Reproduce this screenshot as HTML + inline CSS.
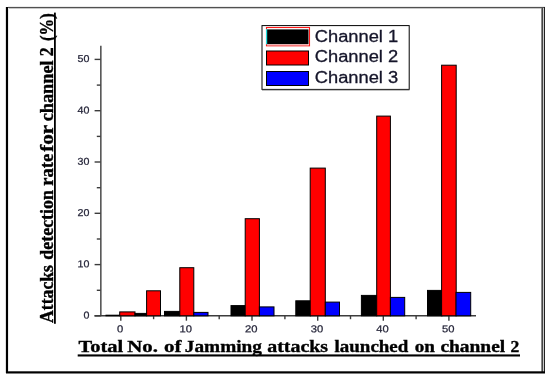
<!DOCTYPE html>
<html><head><meta charset="utf-8"><title>Attacks detection rate</title>
<style>
html,body{margin:0;padding:0;background:#fff;}
body{width:550px;height:380px;overflow:hidden;}
svg{display:block;}
.tick{font-family:"Liberation Sans",Arial,sans-serif;font-size:10px;fill:#26263a;stroke:#26263a;stroke-width:0.25px;}
.leg{font-family:"Liberation Sans",Arial,sans-serif;font-size:16px;fill:#15152a;stroke:#15152a;stroke-width:0.3px;}
.ttl{font-family:"Liberation Serif","Times New Roman",serif;font-weight:bold;font-size:17.2px;fill:#000;stroke:#000;stroke-width:0.35px;}
.ttly{font-size:18px;}
</style></head><body>
<svg width="550" height="380" viewBox="0 0 550 380">
<rect x="0" y="0" width="550" height="380" fill="#fff"/>

<rect x="8" y="7" width="537" height="1" fill="#505050"/>
<rect x="8" y="8" width="533" height="1" fill="#c8c8c8"/>
<rect x="8" y="6" width="537" height="1" fill="#ececec"/>
<rect x="541" y="8" width="1" height="364" fill="#8a8a8a"/>
<rect x="542" y="8" width="1" height="364" fill="#444"/>
<rect x="543" y="8" width="1" height="364" fill="#cacaca"/>
<rect x="544" y="7" width="1" height="366" fill="#222"/>
<rect x="6" y="371.3" width="539" height="2.2" fill="#000"/>
<rect x="6" y="7" width="2" height="366" fill="#000"/>
<rect x="5" y="7" width="1" height="366" fill="#e0e0e0"/>
<rect x="8" y="8" width="1" height="363" fill="#ececec"/>
<g stroke="#3c3c3c" stroke-width="1.4" fill="none">
<line x1="100.85" y1="45.8" x2="100.85" y2="316.3"/>
<line x1="94.5" y1="315.8" x2="476" y2="315.8"/>
<line x1="94.6" y1="315.9" x2="100.6" y2="315.9"/>
<line x1="94.6" y1="264.6" x2="100.6" y2="264.6"/>
<line x1="94.6" y1="213.3" x2="100.6" y2="213.3"/>
<line x1="94.6" y1="162.0" x2="100.6" y2="162.0"/>
<line x1="94.6" y1="110.7" x2="100.6" y2="110.7"/>
<line x1="94.6" y1="59.4" x2="100.6" y2="59.4"/>
<line x1="96.8" y1="290.3" x2="100.6" y2="290.3"/>
<line x1="96.8" y1="239.0" x2="100.6" y2="239.0"/>
<line x1="96.8" y1="187.7" x2="100.6" y2="187.7"/>
<line x1="96.8" y1="136.4" x2="100.6" y2="136.4"/>
<line x1="96.8" y1="85.1" x2="100.6" y2="85.1"/>
<line x1="120.8" y1="315.8" x2="120.8" y2="320.7"/>
<line x1="186.4" y1="315.8" x2="186.4" y2="320.7"/>
<line x1="252.0" y1="315.8" x2="252.0" y2="320.7"/>
<line x1="317.7" y1="315.8" x2="317.7" y2="320.7"/>
<line x1="383.3" y1="315.8" x2="383.3" y2="320.7"/>
<line x1="448.9" y1="315.8" x2="448.9" y2="320.7"/>
<line x1="153.6" y1="315.8" x2="153.6" y2="319.2"/>
<line x1="219.2" y1="315.8" x2="219.2" y2="319.2"/>
<line x1="284.9" y1="315.8" x2="284.9" y2="319.2"/>
<line x1="350.5" y1="315.8" x2="350.5" y2="319.2"/>
<line x1="416.1" y1="315.8" x2="416.1" y2="319.2"/>
</g>
<g stroke="#000" stroke-width="1">
<rect x="106.0" y="315.2" width="13.7" height="0.6" fill="#000"/>
<rect x="119.7" y="311.9" width="15.3" height="3.9" fill="#ff0000"/>
<rect x="135.0" y="313.4" width="11.6" height="2.4" fill="#000"/>
<rect x="146.6" y="290.8" width="13.9" height="25.0" fill="#ff0000"/>
<rect x="164.5" y="311.4" width="15.3" height="4.4" fill="#000"/>
<rect x="179.8" y="267.7" width="14.0" height="48.1" fill="#ff0000"/>
<rect x="193.8" y="312.4" width="14.2" height="3.4" fill="#0000ff"/>
<rect x="231.0" y="305.6" width="14.2" height="10.2" fill="#000"/>
<rect x="245.2" y="218.7" width="14.2" height="97.1" fill="#ff0000"/>
<rect x="259.4" y="306.9" width="14.6" height="8.9" fill="#0000ff"/>
<rect x="295.8" y="300.8" width="14.7" height="15.0" fill="#000"/>
<rect x="310.2" y="168.1" width="15.1" height="147.7" fill="#ff0000"/>
<rect x="325.3" y="302.1" width="14.2" height="13.7" fill="#0000ff"/>
<rect x="361.4" y="295.4" width="15.3" height="20.4" fill="#000"/>
<rect x="376.7" y="116.1" width="13.7" height="199.7" fill="#ff0000"/>
<rect x="390.4" y="297.4" width="14.3" height="18.4" fill="#0000ff"/>
<rect x="427.5" y="290.4" width="14.5" height="25.4" fill="#000"/>
<rect x="441.6" y="65.2" width="14.6" height="250.6" fill="#ff0000"/>
<rect x="456.0" y="292.4" width="14.7" height="23.4" fill="#0000ff"/>
</g>
<text class="tick" transform="translate(83.60,318.60) scale(1.07,1.0) rotate(0.03)">0</text>
<text class="tick" transform="translate(77.50,267.30) scale(1.07,1.0) rotate(0.03)">10</text>
<text class="tick" transform="translate(77.50,216.00) scale(1.07,1.0) rotate(0.03)">20</text>
<text class="tick" transform="translate(77.50,164.70) scale(1.07,1.0) rotate(0.03)">30</text>
<text class="tick" transform="translate(77.50,113.40) scale(1.07,1.0) rotate(0.03)">40</text>
<text class="tick" transform="translate(77.50,62.10) scale(1.07,1.0) rotate(0.03)">50</text>
<text class="tick" transform="translate(116.95,332.2) scale(1.124,1.0) rotate(0.03)">0</text>
<text class="tick" transform="translate(179.42,332.2) scale(1.124,1.0) rotate(0.03)">10</text>
<text class="tick" transform="translate(245.04,332.2) scale(1.124,1.0) rotate(0.03)">20</text>
<text class="tick" transform="translate(310.66,332.2) scale(1.124,1.0) rotate(0.03)">30</text>
<text class="tick" transform="translate(376.28,332.2) scale(1.124,1.0) rotate(0.03)">40</text>
<text class="tick" transform="translate(441.90,332.2) scale(1.124,1.0) rotate(0.03)">50</text>
<rect x="262" y="25.6" width="147.2" height="63.8" fill="#fff" stroke="#000" stroke-width="1"/>
<rect x="262" y="89.8" width="147.5" height="0.8" fill="#999"/>
<rect x="266.5" y="27.5" width="43" height="18.3" fill="#fff" stroke="#ff1818" stroke-width="1.1"/>
<rect x="267" y="44" width="41.6" height="1.4" fill="#e8b0b0"/>
<rect x="267" y="29.4" width="41.5" height="14.6" fill="#000"/>
<rect x="266" y="29" width="1.2" height="15.4" fill="#20e0e0"/>
<rect x="266.5" y="51" width="42" height="14" fill="#ff0000" stroke="#000" stroke-width="1"/>
<rect x="266.5" y="71.5" width="42" height="14" fill="#0000ff" stroke="#000" stroke-width="1"/>
<text class="leg" x="314.8" y="41.7" textLength="83.4" lengthAdjust="spacingAndGlyphs">Channel 1</text>
<text class="leg" x="314.8" y="62.3" textLength="83.4" lengthAdjust="spacingAndGlyphs">Channel 2</text>
<text class="leg" x="314.8" y="83" textLength="83.4" lengthAdjust="spacingAndGlyphs">Channel 3</text>
<text class="ttl" y="352.4"><tspan x="78.50" textLength="44.80" lengthAdjust="spacingAndGlyphs">Total</tspan> <tspan x="127.30" textLength="30.60" lengthAdjust="spacingAndGlyphs">No.</tspan> <tspan x="164.10" textLength="17.50" lengthAdjust="spacingAndGlyphs">of</tspan> <tspan x="184.80" textLength="77.10" lengthAdjust="spacingAndGlyphs">Jamming</tspan> <tspan x="267.30" textLength="60.80" lengthAdjust="spacingAndGlyphs">attacks</tspan> <tspan x="334.60" textLength="73.70" lengthAdjust="spacingAndGlyphs">launched</tspan> <tspan x="414.80" textLength="20.20" lengthAdjust="spacingAndGlyphs">on</tspan> <tspan x="440.40" textLength="64.80" lengthAdjust="spacingAndGlyphs">channel</tspan> <tspan x="510.60" textLength="8.80" lengthAdjust="spacingAndGlyphs">2</tspan></text>
<rect x="77.7" y="354.4" width="442.3" height="2.1" fill="#000"/>
<text class="ttl ttly" transform="translate(52.5,0) rotate(-90)" y="0"><tspan x="-323.00" textLength="58.00" lengthAdjust="spacingAndGlyphs">Attacks</tspan> <tspan x="-259.70" textLength="69.70" lengthAdjust="spacingAndGlyphs">detection</tspan> <tspan x="-185.80" textLength="32.00" lengthAdjust="spacingAndGlyphs">rate</tspan> <tspan x="-151.70" textLength="26.50" lengthAdjust="spacingAndGlyphs">for</tspan> <tspan x="-121.30" textLength="60.90" lengthAdjust="spacingAndGlyphs">channel</tspan> <tspan x="-56.30" textLength="8.90" lengthAdjust="spacingAndGlyphs">2</tspan> <tspan x="-41.10" textLength="27.80" lengthAdjust="spacingAndGlyphs">(%)</tspan></text>
<rect x="54" y="12.6" width="1.8" height="311.2" fill="#000"/>
</svg></body></html>
